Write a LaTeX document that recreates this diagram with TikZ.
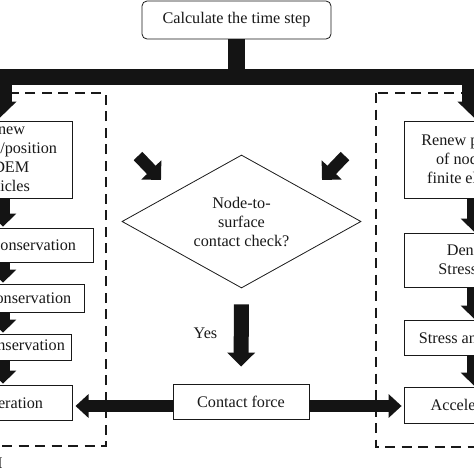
\documentclass[tikz,border=0pt]{standalone}
\usepackage{fontspec}
\setmainfont{Liberation Serif}
\usetikzlibrary{arrows.meta,shapes.geometric}
\begin{document}
\begin{tikzpicture}[x=1pt,y=-1pt,
  txt/.style={font=\fontsize{16.2pt}{19pt}\selectfont, text=black!90},
  box/.style={txt, draw=black!90, line width=0.8pt, fill=white, inner sep=0pt, align=center},
  tbox/.style={box, rounded corners=5pt},
  dia/.style={txt, draw=black!90, line width=0.8pt, diamond, aspect=1.8, inner sep=0pt, align=center},
  dashbox/.style={draw=black!90, line width=2.6pt, dash pattern=on 10pt off 6.5pt},
  fatbar/.style={draw=black!92, line width=16.5pt},
  branch/.style={draw=black!92, line width=28pt, -{Triangle[width=36pt,length=18pt]}},
  varrow/.style={draw=black!92, line width=14pt, -{Triangle[width=26pt,length=13pt]}},
  harrow/.style={draw=black!92, line width=12pt, -{Triangle[width=23pt,length=13pt]}},
  darrow/.style={draw=black!92, line width=12pt, -{Triangle[width=27pt,length=14pt]}},
  yarrow/.style={draw=black!92, line width=15pt, -{Triangle[width=27pt,length=14pt]}}
]
\useasboundingbox (0,0) rectangle (474,474);
\clip (0,0) rectangle (474,474);

% helper coordinates
\coordinate (lc) at (3,0);
\coordinate (rc) at (474,0);
\coordinate (hy) at (0,406);
\coordinate (jt) at (236.5,77);
\coordinate (hl) at (-40,77);
\coordinate (hr) at (520,77);
\coordinate (jl) at (-2,72);
\coordinate (jr) at (476,72);
\coordinate (dl0) at (138,156);
\coordinate (dl1) at (161,180);
\coordinate (dr0) at (345,156);
\coordinate (dr1) at (322,180);

% dashed groups
\draw[dashbox] (-8,93) rectangle (106,446);
\draw[dashbox] (376,93) rectangle (490,447);

% nodes
\node[tbox, minimum width=189pt, minimum height=38pt] (top) at (236.5,20) {Calculate the time step};

\node[box, minimum width=139pt, minimum height=77pt] (b1) at (2.5,159.5) {Renew\\velocity/position\\of DEM\\particles};
\node[box, minimum width=155pt, minimum height=34pt] (b2) at (15.5,245) {Mass conservation};
\node[box, minimum width=188pt, minimum height=28pt] (b3) at (-10,298) {Momentum conservation};
\node[box, minimum width=146pt, minimum height=26pt] (b4) at (-1.8,347) {Energy conservation};
\node[box, minimum width=141pt, minimum height=35pt] (b5) at (1.6,402.5) {Acceleration};

\node[box, minimum width=136pt, minimum height=77pt] (r1) at (472,159.5) {Renew position\\of nodes in\\finite element};
\node[box, minimum width=136pt, minimum height=54pt] (r2) at (472,260) {Density\\Stress rate};
\node[box, minimum width=136pt, minimum height=35pt] (r3) at (472,337.5) {Stress and strain};
\node[box, minimum width=136pt, minimum height=36pt] (r4) at (472,405) {Acceleration};

\node[dia, minimum width=239pt, minimum height=133pt] (check) at (241.5,221.5) {Node-to-\\surface\\contact check?};
\node[box, minimum width=136pt, minimum height=35pt] (contact) at (241,401.5) {Contact force};

\node[txt] (yes) at (205.5,333) {Yes};
\node[txt, anchor=base east] (dem) at (6,468) {DEM};

% top distribution
\draw[fatbar] (top.south) -- (jt);
\draw[fatbar] (hl) -- (hr);
\draw[branch, shorten >=1pt] (jl) -- (jl |- b1.north);
\draw[branch, shorten >=1pt] (jr) -- (jr |- r1.north);

% left column
\draw[varrow, shorten >=1pt] (b1.south -| lc) -- (b2.north -| lc);
\draw[varrow, shorten >=1pt] (b2.south -| lc) -- (b3.north -| lc);
\draw[varrow, shorten >=1pt] (b3.south -| lc) -- (b4.north -| lc);
\draw[varrow, shorten >=1pt] (b4.south -| lc) -- (b5.north -| lc);

% right column
\draw[varrow, shorten >=1pt] (r1.south -| rc) -- (r2.north -| rc);
\draw[varrow, shorten >=1pt] (r2.south -| rc) -- (r3.north -| rc);
\draw[varrow, shorten >=1pt] (r3.south -| rc) -- (r4.north -| rc);

% into the check
\draw[darrow] (dl0) -- (dl1);
\draw[darrow] (dr0) -- (dr1);
\draw[yarrow, shorten <=16pt, shorten >=17pt] (check.south) -- (contact.north);

% contact force out
\draw[harrow, shorten >=3pt] (contact.west |- hy) -- (b5.east |- hy);
\draw[harrow, shorten >=2pt] (contact.east |- hy) -- (r4.west |- hy);
\end{tikzpicture}
\end{document}
